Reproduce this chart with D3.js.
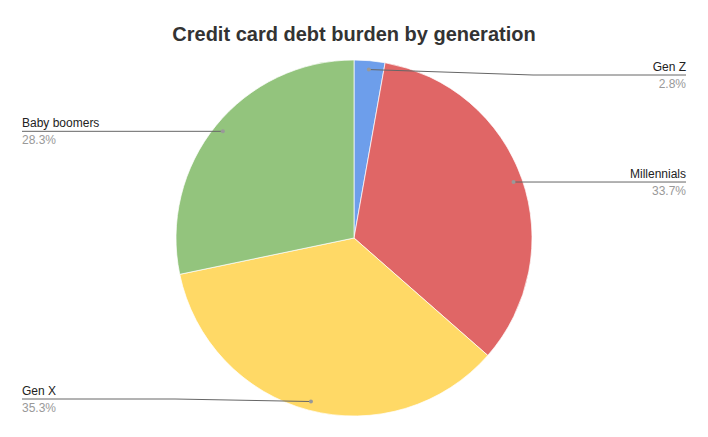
<!DOCTYPE html>
<html>
<head>
<meta charset="utf-8">
<script src="https://cdn.jsdelivr.net/npm/d3@7"></script>
<style>
  body { margin: 0; background: #fff; }
  svg { display: block; font-family: "Liberation Sans", Arial, sans-serif; }
</style>
</head>
<body>
<svg id="drawing_region"></svg>
<script>
var generations = ["Gen Z", "Millennials", "Gen X", "Baby boomers"];
var shares = [2.8, 33.7, 35.3, 28.3];
var colors = ["#6d9eeb", "#e06666", "#ffd966", "#93c47d"];

var config = {
    width: 708,
    height: 437,
    cx: 354,
    cy: 238,
    radius: 178,
    labelLeft: 22,
    labelRight: 686
};

var data = generations.map((g, i) => ({ label: g, value: shares[i], color: colors[i] }));

var svg = d3.select('#drawing_region')
    .attr('width', config.width)
    .attr('height', config.height);

svg.append('text')
    .attr('x', config.cx)
    .attr('y', 41)
    .attr('text-anchor', 'middle')
    .attr('font-size', 20)
    .attr('font-weight', 'bold')
    .attr('fill', '#333')
    .text('Credit card debt burden by generation');

var pie = d3.pie().sort(null).value(d => d.value);
var arc = d3.arc().innerRadius(0).outerRadius(config.radius);
var arcs = pie(data);

var chart = svg.append('g')
    .attr('transform', `translate(${config.cx}, ${config.cy})`);

chart.selectAll('path').data(arcs).join('path')
    .attr('d', arc)
    .attr('fill', d => d.data.color)
    .attr('stroke', '#fff')
    .attr('stroke-width', 0.7);

// leader lines + labels
var dotR = config.radius * 0.95;
arcs.forEach(d => {
    var mid = (d.startAngle + d.endAngle) / 2;
    var dx = config.cx + Math.sin(mid) * dotR;
    var dy = config.cy - Math.cos(mid) * dotR;
    var right = mid < Math.PI;
    var ly = Math.max(75, Math.min(399, dy));
    var elbowX = right ? config.cx + config.radius + 1 : config.cx - config.radius - 1;
    if (right ? dx > elbowX : dx < elbowX) elbowX = dx;
    var endX = right ? config.labelRight : config.labelLeft;

    svg.append('polyline')
        .attr('points', [[dx, dy], [elbowX, ly], [endX, ly]].map(p => p.join(',')).join(' '))
        .attr('fill', 'none')
        .attr('stroke', '#666')
        .attr('stroke-width', 1);

    svg.append('circle')
        .attr('cx', dx)
        .attr('cy', dy)
        .attr('r', 2)
        .attr('fill', '#999');

    svg.append('text')
        .attr('x', endX)
        .attr('y', ly - 4)
        .attr('text-anchor', right ? 'end' : 'start')
        .attr('font-size', 12)
        .attr('fill', '#222')
        .text(d.data.label);

    svg.append('text')
        .attr('x', endX)
        .attr('y', ly + 12.5)
        .attr('text-anchor', right ? 'end' : 'start')
        .attr('font-size', 12)
        .attr('fill', '#999')
        .text(d.data.value.toFixed(1) + '%');
});
</script>
</body>
</html>
